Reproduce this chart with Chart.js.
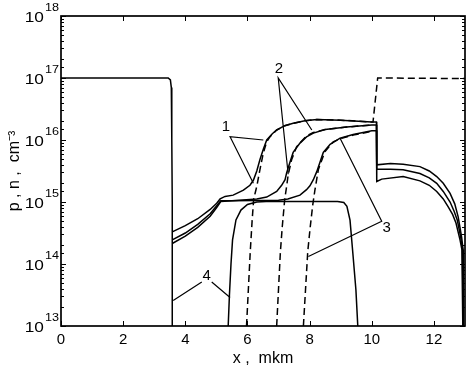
<!DOCTYPE html>
<html><head><meta charset="utf-8">
<script src="https://cdn.jsdelivr.net/npm/chart.js@4"></script>
<style>html,body{margin:0;padding:0;background:#fff}</style>
</head><body>
<canvas id="c" width="474" height="368"></canvas>
<script>
// ---- data (x in mkm, concentration in cm^-3) ----
const emitterX = [0, 3.45, 3.52, 3.55, 3.56, 3.57, 3.58, 3.58];
const emitterY = [1e17, 1e17, 9.3e16, 7e16, 3e16, 1e16, 1e15, 1e13];

const solid1X = [3.58, 4.0, 4.4, 4.8, 5.01, 5.12, 5.28, 5.54, 5.87, 6.08, 6.19, 6.30, 6.40, 6.51, 6.62, 6.80, 6.94, 7.20, 7.47, 7.85, 8.23, 9.0, 10.0, 10.15,
                 10.16, 10.6, 11.01, 11.55, 11.85, 12.09, 12.3, 12.52, 12.67, 12.78, 12.89, 12.94, 12.95];
const solid1Y = [3.3e14, 4.17e14, 5.37e14, 7.59e14, 9.55e14, 1.12e15, 1.23e15, 1.29e15, 1.55e15, 1.86e15, 2.24e15, 3.16e15, 4.79e15, 7.08e15, 1e16, 1.26e16, 1.45e16, 1.70e16, 1.86e16, 2.04e16, 2.14e16, 2.09e16, 1.95e16, 1.95e16,
                 3.98e15, 4.17e15, 4.07e15, 3.72e15, 3.16e15, 2.57e15, 2.0e15, 1.38e15, 9.33e14, 5.75e14, 2.75e14, 1.70e14, 1e13];

const solid2X = [3.58, 4.0, 4.4, 4.8, 5.01, 5.14, 5.5, 6.08, 6.3, 6.62, 6.94, 7.1, 7.21, 7.26, 7.36, 7.47, 7.69, 7.9, 8.12, 8.5, 9.19, 10.0, 10.15,
                 10.16, 10.6, 11.01, 11.55, 11.85, 12.09, 12.3, 12.52, 12.65, 12.75, 12.86, 12.92, 12.94];
const solid2Y = [2.45e14, 3.16e14, 4.37e14, 6.46e14, 8.71e14, 1.05e15, 1.05e15, 1.10e15, 1.12e15, 1.20e15, 1.48e15, 1.86e15, 2.29e15, 2.95e15, 4.27e15, 6.31e15, 8.91e15, 1.12e16, 1.29e16, 1.48e16, 1.62e16, 1.74e16, 1.74e16,
                 3.39e15, 3.39e15, 3.31e15, 2.88e15, 2.45e15, 2.0e15, 1.48e15, 1.0e15, 7.08e14, 5.13e14, 2.75e14, 1.70e14, 1e13];

const solid3X = [3.58, 4.0, 4.4, 4.8, 5.01, 5.14, 5.5, 7.0, 7.3, 7.69, 7.9, 8.01, 8.12, 8.23, 8.44, 8.66, 8.98, 9.4, 10.0, 10.15,
                 10.16, 10.32, 11.01, 11.55, 11.85, 12.09, 12.3, 12.46, 12.6, 12.71, 12.84, 12.90, 12.93];
const solid3Y = [2.14e14, 2.82e14, 3.89e14, 5.89e14, 8.13e14, 1.02e15, 1.05e15, 1.07e15, 1.12e15, 1.29e15, 1.58e15, 1.82e15, 2.29e15, 3.09e15, 6.31e15, 8.51e15, 1.07e16, 1.23e16, 1.41e16, 1.41e16,
                 2.14e15, 2.34e15, 2.57e15, 2.19e15, 1.86e15, 1.48e15, 1.12e15, 8.32e14, 6.31e14, 4.57e14, 2.45e14, 1.70e14, 1e13];

const dashed1X = [5.97, 6.03, 6.09, 6.15, 6.20, 6.25, 6.30, 6.40, 6.51, 6.62, 6.72, 6.94, 7.2, 7.47, 7.85, 8.23, 9.0, 10.0, 10.04, 10.19, 13.0];
const dashed1Y = [1e13, 3.98e13, 1.58e14, 5.01e14, 1.12e15, 1.41e15, 1.78e15, 3.31e15, 6.17e15, 9.33e15, 1.12e16, 1.45e16, 1.70e16, 1.86e16, 2.04e16, 2.14e16, 2.09e16, 1.95e16, 1.95e16, 1e17, 9.8e16];

const dashed2X = [6.94, 7.0, 7.06, 7.12, 7.20, 7.26, 7.31, 7.42, 7.58, 7.9, 8.12, 8.5, 9.19, 10.0, 10.04];
const dashed2Y = [1e13, 3.98e13, 1.58e14, 3.98e14, 1.12e15, 1.78e15, 2.75e15, 4.79e15, 7.76e15, 1.17e16, 1.32e16, 1.48e16, 1.62e16, 1.74e16, 1.74e16];

const dashed3X = [7.80, 7.87, 7.94, 8.02, 8.10, 8.17, 8.28, 8.49, 8.76, 9.03, 9.4, 10.0, 10.04];
const dashed3Y = [1e13, 3.98e13, 1.58e14, 3.98e14, 8.91e14, 1.55e15, 3.31e15, 6.46e15, 9.33e15, 1.07e16, 1.20e16, 1.38e16, 1.38e16];

const curve4X = [5.38, 5.42, 5.47, 5.52, 5.63, 5.79, 6.0, 6.3, 6.6, 8.9, 9.1, 9.2, 9.3, 9.40, 9.49, 9.55];
const curve4Y = [1e13, 3.16e13, 1e14, 2.45e14, 5.13e14, 7.41e14, 9.12e14, 1.0e15, 1.02e15, 1.02e15, 9.8e14, 8.5e14, 5.1e14, 1.32e14, 3.8e13, 1e13];

// callout leader lines (null breaks the line)
const leader1X = [6.51, 5.44, 6.19];
const leader1Y = [1.0e16, 1.13e16, 2.0e15];
const leader2X = [7.31, 6.99, 8.07];
const leader2Y = [2.8e15, 1.0e17, 1.45e16];
const leader3X = [8.98, 10.32, 7.96];
const leader3Y = [1.07e16, 4.9e14, 1.32e14];
const leader4X = [3.61, 4.53, 4.69, 4.85, 5.44];
const leader4Y = [2.57e13, 5.13e13, null, 5.13e13, 2.88e13];

const labelTexts = ['1', '2', '3', '4'];
const labelX = [5.31, 7.01, 10.48, 4.69];
const labelY = [1.62e16, 1.41e17, 3.8e14, 6.46e13];

const xTickValues = [0, 2, 4, 6, 8, 10, 12];
const yTickBase = '10';

// ---- build ----
const FONT = 'Liberation Sans, Arial, Helvetica, sans-serif';
function pts(xs, ys) { return xs.map((x, i) => ({x: x, y: ys[i]})); }
function ds(xs, ys, dashed, w) {
  return {data: pts(xs, ys), borderColor: '#000', borderWidth: w || 1.5, borderDash: dashed ? [7, 4] : [],
          pointRadius: 0, tension: 0, fill: false, spanGaps: false};
}
function isDecade(v) { const e = Math.log10(v); return Math.abs(e - Math.round(e)) < 1e-9; }

const framePlugin = {
  id: 'frame',
  afterDatasetsDraw(chart) {
    const {ctx, chartArea: a, scales: {x, y}} = chart;
    ctx.save();
    ctx.strokeStyle = '#000';
    ctx.lineWidth = 1.7;
    ctx.strokeRect(a.left, a.top, a.right - a.left, a.bottom - a.top);
    ctx.lineWidth = 1;
    ctx.beginPath();
    x.ticks.forEach(t => {
      const px = Math.round(x.getPixelForValue(t.value)) + 0.5;
      ctx.moveTo(px, a.bottom); ctx.lineTo(px, a.bottom - 5);
      ctx.moveTo(px, a.top); ctx.lineTo(px, a.top + 5);
    });
    y.ticks.forEach(t => {
      const py = Math.round(y.getPixelForValue(t.value)) + 0.5;
      const L = isDecade(t.value) ? 5 : 3;
      ctx.moveTo(a.left, py); ctx.lineTo(a.left + L, py);
      ctx.moveTo(a.right, py); ctx.lineTo(a.right - L, py);
    });
    ctx.stroke();
    ctx.fillStyle = '#000';
    // curve labels
    ctx.font = '15px ' + FONT;
    ctx.textAlign = 'center';
    ctx.textBaseline = 'middle';
    labelTexts.forEach((s, i) => {
      ctx.fillText(s, x.getPixelForValue(labelX[i]), y.getPixelForValue(labelY[i]));
    });
    // y tick labels: 10 with raised exponent
    ctx.textAlign = 'left';
    ctx.textBaseline = 'alphabetic';
    const sx = 1.15;
    y.ticks.forEach(t => {
      if (!isDecade(t.value)) return;
      const e = String(Math.round(Math.log10(t.value)));
      const py = y.getPixelForValue(t.value);
      ctx.font = '11px ' + FONT;
      const we = ctx.measureText(e).width * sx;
      ctx.font = '15px ' + FONT;
      const wb = ctx.measureText(yTickBase).width * sx;
      const xe = a.left - 2 - we;
      const xb = xe - 1 - wb;
      ctx.save(); ctx.translate(xb, py + 5.5); ctx.scale(sx, 1); ctx.fillText(yTickBase, 0, 0); ctx.restore();
      ctx.font = '11px ' + FONT;
      ctx.save(); ctx.translate(xe, py - 5.5); ctx.scale(sx, 1); ctx.fillText(e, 0, 0); ctx.restore();
    });
    ctx.restore();
  }
};

new Chart(document.getElementById('c'), {
  type: 'line',
  data: {
    datasets: [
      ds(emitterX, emitterY, false),
      ds(solid1X, solid1Y, false),
      ds(solid2X, solid2Y, false),
      ds(solid3X, solid3Y, false),
      ds(dashed1X, dashed1Y, true),
      ds(dashed2X, dashed2Y, true),
      ds(dashed3X, dashed3Y, true),
      ds(curve4X, curve4Y, false),
      ds(leader1X, leader1Y, false, 1.2),
      ds(leader2X, leader2Y, false, 1.2),
      ds(leader3X, leader3Y, false, 1.2),
      ds(leader4X, leader4Y, false, 1.2)
    ]
  },
  options: {
    responsive: false,
    animation: false,
    devicePixelRatio: 1,
    layout: {padding: {top: 16, right: 9, left: 0, bottom: 0}},
    plugins: {legend: {display: false}, tooltip: {enabled: false}},
    scales: {
      x: {
        type: 'linear', min: 0, max: 13,
        grid: {display: false, drawTicks: false}, border: {display: false},
        afterBuildTicks: s => { s.ticks = xTickValues.map(v => ({value: v})); },
        afterFit: s => { s.height = 42; },
        ticks: {color: '#000', font: {family: FONT, size: 15}, padding: 5, maxRotation: 0, autoSkip: false},
        title: {display: true, text: 'x ,  mkm', color: '#000', font: {family: FONT, size: 16}, padding: {top: 1, bottom: 0}}
      },
      y: {
        type: 'logarithmic', min: 1e13, max: 1e18,
        grid: {display: false, drawTicks: false}, border: {display: false},
        afterFit: s => { s.width = 61; },
        ticks: {color: '#000', font: {family: FONT, size: 15}, padding: 1, autoSkip: false, callback: () => ''},
        title: {display: true, text: 'p , n ,  cm\u207b\u00b3', color: '#000', font: {family: FONT, size: 16}, padding: {top: 5, bottom: 0}}
      }
    }
  },
  plugins: [framePlugin]
});
</script>
</body></html>
